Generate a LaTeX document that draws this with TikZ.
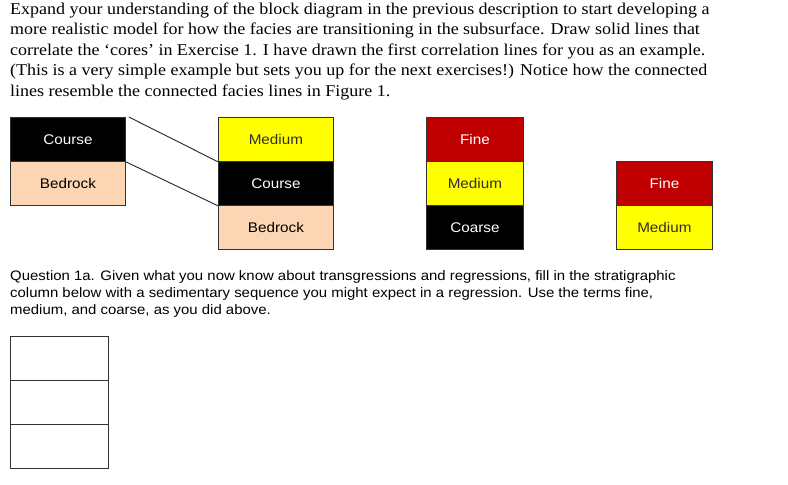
\documentclass[tikz,border=0pt]{standalone}
\usepackage{fontspec}
\setmainfont{Liberation Serif}
\newfontfamily\serifw[FakeStretch=1.09]{Liberation Serif}
\newfontfamily\arialf[FakeStretch=1.09]{Liberation Sans}
\definecolor{peach}{HTML}{FCD5B4}
\definecolor{finered}{HTML}{C00000}
\definecolor{medyellow}{HTML}{FFFF00}
\definecolor{edge}{HTML}{333333}
\begin{document}
\begin{tikzpicture}[x=1pt,y=-1pt,
  para/.style={anchor=base west,inner sep=0pt,font=\serifw\fontsize{16.5}{20}\selectfont},
  qline/.style={anchor=base west,inner sep=0pt,font=\arialf\fontsize{13.7}{17}\selectfont},
  cell/.style={draw=edge,line width=0.8pt,anchor=north west,inner sep=0pt,
    minimum height=44pt,font=\arialf\fontsize{14}{16}\selectfont},
  coarsecell/.style={cell,fill=black,text=white},
  bedcell/.style={cell,fill=peach,text=black},
  medcell/.style={cell,fill=medyellow,text=black!85!olive},
  finecell/.style={cell,fill=finered,text=white},
  emptycell/.style={cell,fill=white},
  corr/.style={draw=black!85,line width=0.9pt}]
\useasboundingbox (0,0) rectangle (788,485);
\fill[white] (0,0) rectangle (788,485);
% paragraph
\node[para] (p1) at (10,14) {Expand your understanding of the block diagram in the previous description to start developing a};
\node[para] (p2) at (10,34.5) {more realistic model for how the facies are transitioning in the subsurface. Draw solid lines that};
\node[para] (p3) at (10,55) {correlate the ‘cores’ in Exercise 1. I have drawn the first correlation lines for you as an example.};
\node[para] (p4) at (10,75.5) {(This is a very simple example but sets you up for the next exercises!) Notice how the connected};
\node[para] (p5) at (10,96) {lines resemble the connected facies lines in Figure 1.};
% column 1
\node[coarsecell,minimum width=115pt] (a1) at (10,117) {Course};
\node[bedcell,minimum width=115pt] (a2) at (10,161) {Bedrock};
% column 2
\node[medcell,minimum width=115pt] (b1) at (218,117) {Medium};
\node[coarsecell,minimum width=115pt] (b2) at (218,161) {Course};
\node[bedcell,minimum width=115pt] (b3) at (218,205) {Bedrock};
% column 3
\node[finecell,minimum width=97pt] (c1) at (426,117) {Fine};
\node[medcell,minimum width=97pt] (c2) at (426,161) {Medium};
\node[coarsecell,minimum width=97pt] (c3) at (426,205) {Coarse};
% column 4
\node[finecell,minimum width=96pt] (d1) at (616,161) {Fine};
\node[medcell,minimum width=96pt] (d2) at (616,205) {Medium};
% correlation lines
\draw[corr] ([xshift=3pt]a1.north east) -- (b1.south west);
\draw[corr] (a1.south east) -- (b2.south west);
% question
\node[qline] (q1) at (10,280) {Question 1a. Given what you now know about transgressions and regressions, fill in the stratigraphic};
\node[qline] (q2) at (10,297) {column below with a sedimentary sequence you might expect in a regression. Use the terms fine,};
\node[qline] (q3) at (10,314) {medium, and coarse, as you did above.};
% empty column
\node[emptycell,minimum width=98pt] (e1) at (10,336) {};
\node[emptycell,minimum width=98pt] (e2) at (10,380) {};
\node[emptycell,minimum width=98pt] (e3) at (10,424) {};
\end{tikzpicture}
\end{document}
